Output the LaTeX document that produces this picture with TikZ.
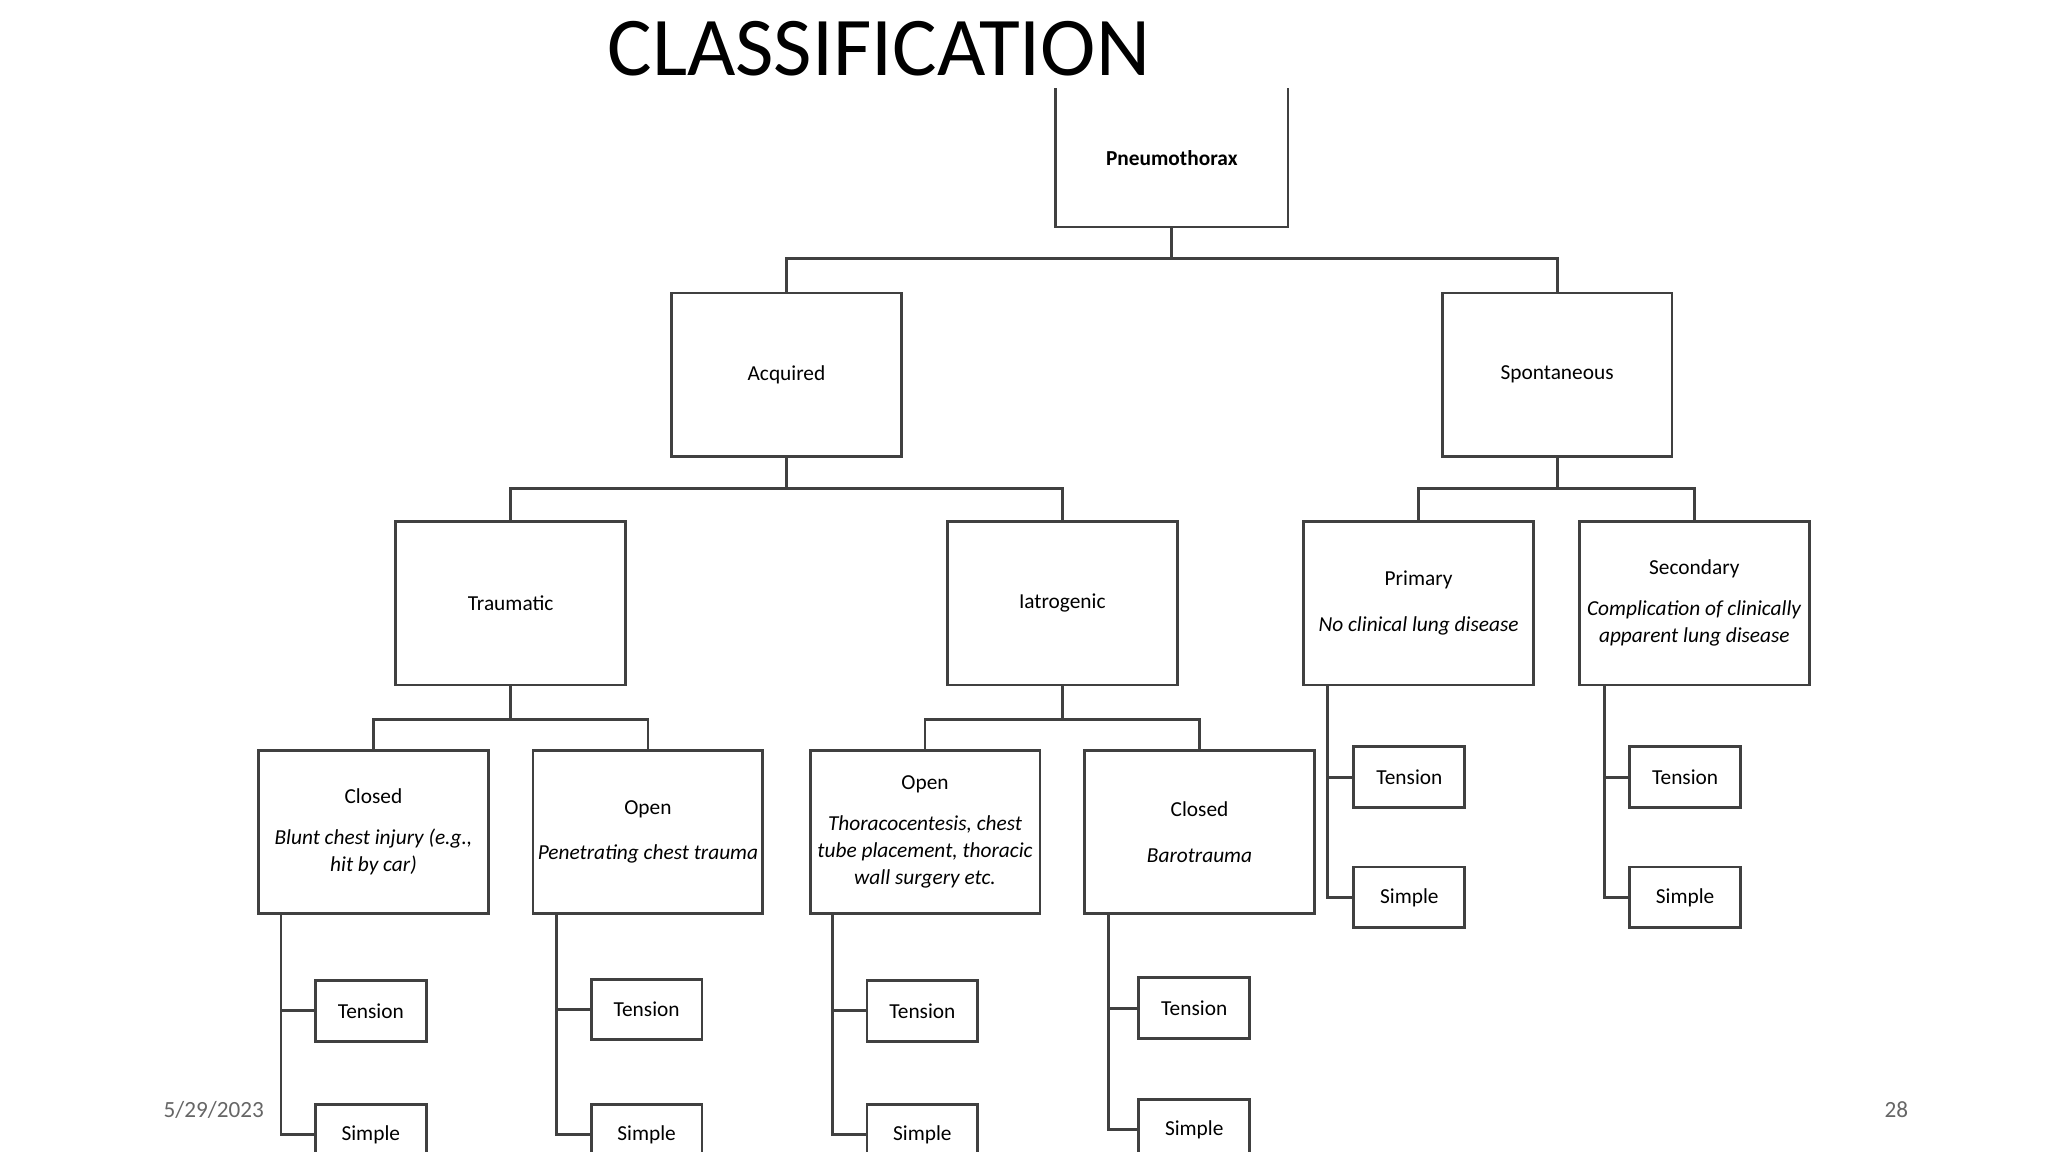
\documentclass[tikz,border=0pt]{standalone}
\usepackage{fontspec}
\setmainfont{Carlito}
\begin{document}
\begin{tikzpicture}[x=0.01cm,y=-0.01cm,
 box/.style={draw=black!75,line width=0.6pt,align=center,inner sep=0.5pt,font=\fontsize{4.6}{5.8}\selectfont},
 leaf/.style={box,minimum width=0.84cm,minimum height=0.46cm},
 mid/.style={box,minimum width=1.74cm,minimum height=1.24cm},
 ln/.style={draw=black!75,line width=0.6pt}]
\useasboundingbox (0,0) rectangle (1552,873);
\clip (0,0) rectangle (1552,873);
\node[font=\fontsize{18}{20}\selectfont] (title) at (666,37) {CLASSIFICATION};
\node[font=\fontsize{5}{6}\selectfont,text=black!60] (date) at (162,841) {5/29/2023};
\node[font=\fontsize{5}{6}\selectfont,text=black!60] (pg) at (1437,841) {28};
\node[mid,draw=none,minimum height=1.03cm] (p) at (888,119.5) {\textbf{Pneumothorax}};
\draw[ln] (p.north west)--(p.south west)--(p.south east)--(p.north east);
\node[mid] (acq) at (596,284) {Acquired};
\node[mid] (spo) at (1180,284) {Spontaneous};
\node[mid] (tra) at (387,457) {Traumatic};
\node[mid] (iat) at (805,457) {Iatrogenic};
\node[mid] (pri) at (1075,457) {Primary\\[4pt]\textit{No clinical lung disease}};
\node[mid] (sec) at (1284,457) {Secondary\\[3pt]\textit{Complication of clinically}\\\textit{apparent lung disease}};
\node[mid,minimum height=1.23cm] (c1) at (283,630.5) {Closed\\[3pt]\textit{Blunt chest injury (e.g.,}\\\textit{hit by car)}};
\node[mid,minimum height=1.23cm] (o1) at (491,630.5) {Open\\[4pt]\textit{Penetrating chest trauma}};
\node[mid,minimum height=1.23cm] (o2) at (701,630.5) {Open\\[3pt]\textit{Thoracocentesis, chest}\\\textit{tube placement, thoracic}\\\textit{wall surgery etc.}};
\node[mid,minimum height=1.23cm] (c2) at (909,630.5) {Closed\\[4pt]\textit{Barotrauma}};
\draw[ln] (p.south) |- (596,196) -- (acq.north);
\draw[ln] (p.south) |- (1180,196) -- (spo.north);
\draw[ln] (acq.south) |- (387,370) -- (tra.north);
\draw[ln] (acq.south) |- (805,370) -- (iat.north);
\draw[ln] (spo.south) |- (1075,370) -- (pri.north);
\draw[ln] (spo.south) |- (1284,370) -- (sec.north);
\draw[ln] (tra.south) |- (283,545) -- (c1.north);
\draw[ln] (tra.south) |- (491,545) -- (o1.north);
\draw[ln] (iat.south) |- (701,545) -- (o2.north);
\draw[ln] (iat.south) |- (909,545) -- (c2.north);
\foreach \n/\pp/\lx/\cx/\ty/\sy in {a/pri/1006/1068/589/680, b/sec/1216/1277/589/680,
  c/c1/213/281/766/860, d/o1/422/490/765/860, e/o2/631/699/766/860, f/c2/840/905/764/856}{
  \node[leaf] (t\n) at (\cx,\ty) {Tension};
  \node[leaf] (s\n) at (\cx,\sy) {Simple};
  \coordinate (k\n) at (\lx,\sy);
  \draw[ln] (\pp.south -| k\n) -- (k\n) -- (s\n.west);
  \draw[ln] (\pp.south -| k\n) |- (t\n.west);
}
\end{tikzpicture}
\end{document}
